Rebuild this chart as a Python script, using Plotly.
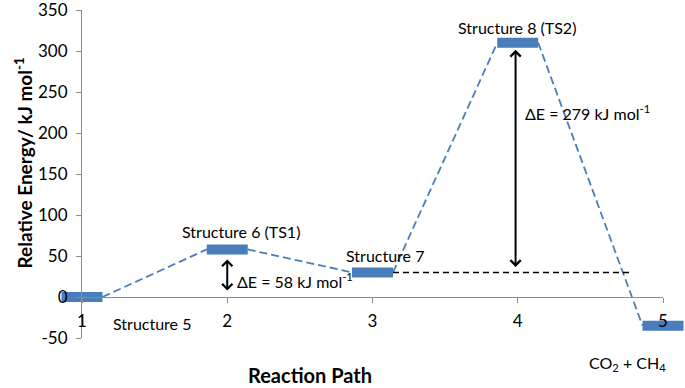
import plotly.graph_objects as go

# ---- data ----
path_steps = [1, 2, 3, 4, 5]
energies = [0, 58, 30, 310, -35]
structure_labels = ["Structure 5", "Structure 6 (TS1)", "Structure 7",
                    "Structure 8 (TS2)", "CO<sub>2</sub> + CH<sub>4</sub>"]
y_ticks = [-50, 0, 50, 100, 150, 200, 250, 300, 350]
x_ticks = [1, 2, 3, 4, 5]
barrier_texts = ["ΔE = 58 kJ mol<sup>-1</sup>", "ΔE = 279 kJ mol<sup>-1</sup>"]
ref_line_end = 4.77  # end of the black dashed reference line (x units)

# ---- style ----
BLUE = "#4A7EBB"
FONT = "Lato"
HW = 0.141  # half width of level bars, x units
Y_RANGE = [-50, 350]
X_RANGE = [1, 5]

fig = go.Figure()

# dashed connectors between bar edges
lx, ly = [], []
for i in range(len(path_steps) - 1):
    lx += [path_steps[i] + HW, path_steps[i + 1] - HW, None]
    ly += [energies[i], energies[i + 1], None]
fig.add_trace(go.Scatter(x=lx, y=ly, mode="lines", hoverinfo="skip",
                         line=dict(color=BLUE, width=1.8, dash="8px,4px"),
                         showlegend=False))

# black dashed reference line at Structure 7 level
fig.add_trace(go.Scatter(x=[path_steps[2] + HW, ref_line_end],
                         y=[energies[2], energies[2]], mode="lines",
                         line=dict(color="black", width=1.5, dash="6px,4px"),
                         showlegend=False, hoverinfo="skip"))

# energy level bars
fig.add_trace(go.Scatter(x=path_steps, y=energies, mode="markers",
                         cliponaxis=False, showlegend=False, hoverinfo="skip",
                         marker=dict(symbol="line-ew", size=29.3, color=BLUE,
                                     line=dict(color=BLUE, width=10))))

LBL = dict(family=FONT, size=16, color="black")
annotations = []
# structure labels (offsets in px relative to each level)
label_shifts = [(70, -26), (14, 18), (12, 17), (-1, 15), (-36, -38)]
for xv, ev, txt, (dx, dy) in zip(path_steps, energies, structure_labels, label_shifts):
    annotations.append(dict(x=xv, y=ev, xref="x", yref="y", text=txt, showarrow=False,
                            xanchor="center", yanchor="middle",
                            xshift=dx, yshift=dy, font=LBL))

# double-headed arrows for barriers
annotations.append(dict(x=2, y=energies[1], ax=2, ay=energies[0], xref="x", yref="y",
                        axref="x", ayref="y", text="", showarrow=True, arrowside="end+start",
                        arrowhead=4, startarrowhead=4, arrowsize=1, startarrowsize=1,
                        arrowwidth=2, arrowcolor="black", standoff=10, startstandoff=5))
annotations.append(dict(x=3.985, y=energies[3], ax=3.985, ay=energies[2], xref="x", yref="y",
                        axref="x", ayref="y", text="", showarrow=True, arrowside="end+start",
                        arrowhead=4, startarrowhead=4, arrowsize=1, startarrowsize=1,
                        arrowwidth=2, arrowcolor="black", standoff=7, startstandoff=4))

# barrier texts
annotations.append(dict(x=2, y=20.7, xref="x", yref="y", text=barrier_texts[0], showarrow=False,
                        xanchor="left", yanchor="middle", xshift=8, font=LBL))
annotations.append(dict(x=4, y=225, xref="x", yref="y", text=barrier_texts[1], showarrow=False,
                        xanchor="left", yanchor="middle", xshift=5, font=LBL))

# axis titles
annotations.append(dict(x=0, y=0.532, xref="paper", yref="paper", xshift=-58,
                        xanchor="center", yanchor="middle",
                        text="<b>Relative Energy/ kJ mol<sup>-1</sup></b>", textangle=-90,
                        showarrow=False, font=dict(family=FONT, size=19, color="black")))
annotations.append(dict(x=0.392, y=-0.1125, xref="paper", yref="paper",
                        xanchor="center", yanchor="middle",
                        text="<b>Reaction Path</b>", showarrow=False,
                        font=dict(family=FONT, size=20, color="black")))

zero_pos = (0 - Y_RANGE[0]) / (Y_RANGE[1] - Y_RANGE[0])

fig.update_layout(
    width=685, height=388,
    margin=dict(l=82, r=22, t=10, b=50),
    plot_bgcolor="white", paper_bgcolor="white",
    annotations=annotations,
    xaxis=dict(range=X_RANGE, tickvals=x_ticks, ticktext=[str(v) for v in x_ticks],
               showgrid=False, zeroline=False,
               showline=True, linecolor="#8C8C8C", linewidth=1, automargin=False,
               ticks="outside", ticklen=5, tickcolor="#8C8C8C", ticklabeloverflow="allow",
               anchor="free", position=zero_pos, ticklabelstandoff=4,
               tickfont=dict(family=FONT, size=17, color="black")),
    yaxis=dict(range=Y_RANGE, tickvals=y_ticks, ticktext=[str(v) for v in y_ticks],
               showgrid=False, zeroline=False,
               showline=True, linecolor="#8C8C8C", linewidth=1, automargin=False,
               ticks="outside", ticklen=5, tickcolor="#8C8C8C", ticklabelstandoff=5,
               ticklabeloverflow="allow",
               tickfont=dict(family=FONT, size=17, color="black")),
)

fig.write_html("out.html", config={"displayModeBar": False},
               post_script="document.body.style.margin='0';document.body.style.overflow='hidden';")
